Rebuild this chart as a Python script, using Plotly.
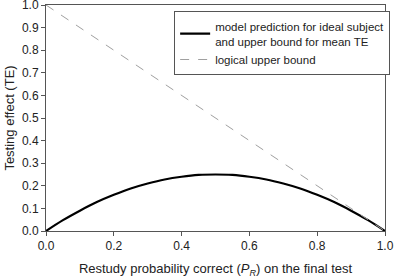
import plotly.graph_objects as go

pr = [0.0, 0.05, 0.1, 0.15, 0.2, 0.25, 0.3, 0.35, 0.4, 0.45, 0.5,
      0.55, 0.6, 0.65, 0.7, 0.75, 0.8, 0.85, 0.9, 0.95, 1.0]
te_model = [0.0, 0.048, 0.09, 0.128, 0.16, 0.188, 0.21, 0.228, 0.24, 0.248, 0.25,
            0.248, 0.24, 0.228, 0.21, 0.188, 0.16, 0.128, 0.09, 0.048, 0.0]
bound_x = [0.0, 1.0]
bound_y = [1.0, 0.0]

model_name = "model prediction for ideal subject<br>and upper bound for mean TE"
bound_name = "logical upper bound"

fig = go.Figure()
fig.add_trace(go.Scatter(x=pr, y=te_model, mode="lines", name=model_name,
                         line=dict(color="black", width=2.2, shape="spline")))
fig.add_trace(go.Scatter(x=bound_x, y=bound_y, mode="lines", name=bound_name,
                         line=dict(color="#a0a0a0", width=1, dash="dash")))

font = "Liberation Sans, Arial, sans-serif"
axis_common = dict(showline=True, linecolor="#555555", linewidth=1, mirror=True,
                   ticks="outside", ticklen=4, tickcolor="#555555", showgrid=False,
                   zeroline=False, ticklabeloverflow="allow",
                   tickfont=dict(size=12, color="#222", family=font))
fig.update_xaxes(range=[0, 1], tickvals=[0, 0.2, 0.4, 0.6, 0.8, 1.0],
                 ticktext=["0.0", "0.2", "0.4", "0.6", "0.8", "1.0"],
                 title=dict(text="Restudy probability correct (<i>P<sub>R</sub></i>) on the final test",
                            font=dict(size=13, color="#222", family=font), standoff=14),
                 **axis_common)
fig.update_yaxes(range=[0, 1], dtick=0.1, tickformat=".1f",
                 title=dict(text="Testing effect (TE)", font=dict(size=13, color="#222", family=font),
                            standoff=4),
                 **axis_common)
fig.update_layout(
    width=394, height=278,
    margin=dict(l=46, r=9, t=5, b=47, autoexpand=False),
    plot_bgcolor="white", paper_bgcolor="white",
    showlegend=True,
    legend=dict(x=0.378, y=0.973, xanchor="left", yanchor="top",
                bgcolor="white", bordercolor="#555555", borderwidth=1,
                font=dict(size=11.5, color="#222", family=font),
                itemwidth=30, tracegroupgap=0),
)
fig.write_html("out.html", config={"displayModeBar": False},
               post_script="document.body.style.margin='0';document.body.style.overflow='hidden';")
